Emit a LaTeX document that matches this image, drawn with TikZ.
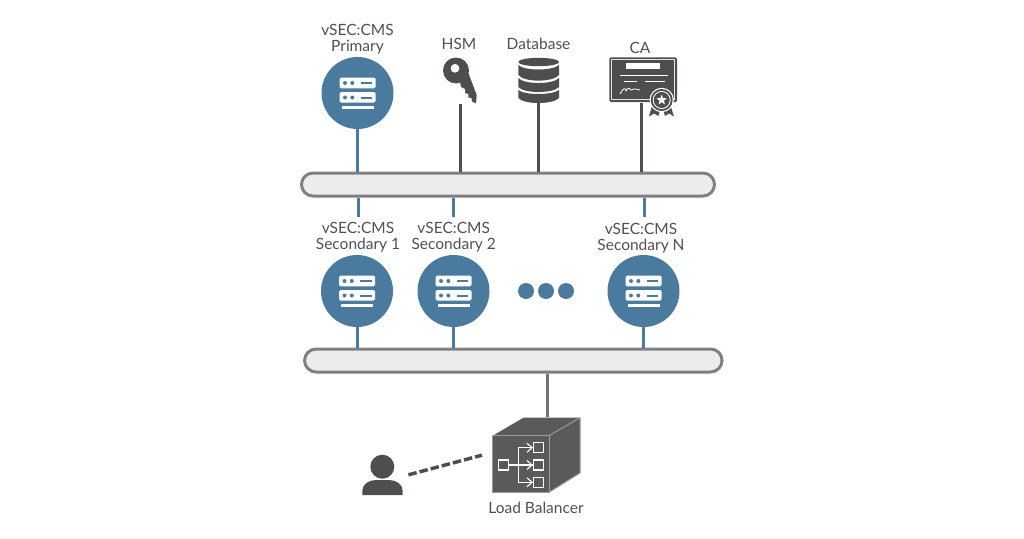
\documentclass[tikz,border=0pt]{standalone}
\usepackage{fontspec}
\usetikzlibrary{shapes.geometric}
\setmainfont{Lato}
\definecolor{bluec}{HTML}{4A7A9E}
\definecolor{darkc}{HTML}{4D4F4F}
\definecolor{barline}{HTML}{808080}
\definecolor{barfill}{HTML}{ECECEC}
\definecolor{txt}{HTML}{505050}
\definecolor{cube}{HTML}{5A5A5A}
\definecolor{cubeline}{HTML}{9A9A9A}
\tikzset{
  x=1pt,y=-1pt,
  srv/.style={circle,fill=bluec,draw=none,minimum size=72pt,inner sep=0pt},
  busbar/.style={rounded corners=11.5pt,draw=barline,line width=3pt,fill=barfill,minimum height=23pt,inner sep=0pt},
  bluelink/.style={draw=bluec,line width=3pt},
  darklink/.style={draw=darkc,line width=3pt},
  grayl/.style={draw=barline,line width=3pt},
  lab/.style={text=txt,font=\fontsize{15.5}{16}\selectfont,align=center,inner sep=0pt},
  icon/.style={inner sep=0pt,minimum width=#1,minimum height=1pt},
  wl/.style={draw=white,line width=1.1pt},
  servericon/.pic={
    \fill[white,rounded corners=1.5pt] (-18,-15.5) rectangle (18,-4.7);
    \fill[white,rounded corners=1.5pt] (-18,-1) rectangle (18,9.7);
    \fill[white] (-16,13.3) rectangle (16,16);
    \foreach \yy in {-10,4.5}{
      \fill[bluec] (-12.5,\yy) circle (2); \fill[bluec] (-5.2,\yy) circle (2);
      \fill[bluec] (3.2,\yy-1) rectangle (14.8,\yy+1);
    }
  }
}
\begin{document}
\begin{tikzpicture}
\useasboundingbox (0,0) rectangle (1024,538);
% bars
\node[busbar,minimum width=413pt] (bus1) at (508,184.5) {};
\node[busbar,minimum width=417.5pt] (bus2) at (513.3,360.5) {};
% servers
\node[srv] (prim) at (357.5,93) {};
\node[srv] (sec1) at (357,291) {};
\node[srv] (sec2) at (453.5,291) {};
\node[srv] (secN) at (643.5,291) {};
\foreach \n in {prim,sec1,sec2,secN}{\pic at (\n) {servericon};}
% dots
\foreach \xx/\n in {526/a,546/b,566/c}{\node[circle,fill=bluec,minimum size=16pt,inner sep=0pt] (dot\n) at (\xx,291) {};}
% anchors for icons
\node[icon=1pt] (hsm) at (460,103) {};
\node[icon=1pt] (db) at (538.5,102) {};
\node[icon=1pt] (ca) at (641.7,102) {};
\node[icon=1pt] (lb) at (547,418) {};
\node[icon=1pt] (s1top) at (358,218) {};
\node[icon=1pt] (s2top) at (453.5,218) {};
\node[icon=1pt] (sNtop) at (644.5,218) {};
\node[icon=1pt] (usr) at (407.7,475) {};
\node[icon=1pt] (lbfront) at (482.7,455) {};
% connectors
\draw[bluelink] (prim.south) -- (prim.south |- bus1.north);
\draw[darklink] (hsm) -- (hsm |- bus1.north);
\draw[darklink] (db) -- (db |- bus1.north);
\draw[darklink] (ca) -- (ca |- bus1.north);
\draw[bluelink] (s1top) -- (s1top |- bus1.south);
\draw[bluelink] (s2top) -- (s2top |- bus1.south);
\draw[bluelink] (sNtop) -- (sNtop |- bus1.south);
\draw[bluelink] (sec1.south) -- (sec1.south |- bus2.north);
\draw[bluelink] (sec2.south) -- (sec2.south |- bus2.north);
\draw[bluelink] (secN.south) -- (secN.south |- bus2.north);
\draw[grayl,draw=darkc!80!white] (lb) -- (lb |- bus2.south);
\draw[draw=darkc,line width=3.5pt,dash pattern=on 8.5pt off 3pt] (usr) -- (lbfront);
% key
\fill[darkc,even odd rule]
  (456,70.5) circle (13)
  (455,68.3) circle (4.5);
\fill[darkc] (460,82) -- (468,72) -- (476.7,95) -- (476,103.5) -- (472,101.5) -- (471.5,98) -- (468.5,97.5) -- (468.3,94) -- (465,93) -- (465,89) -- (461,87) -- cycle;
% database
\fill[darkc] (538.65,62) ellipse [x radius=20.4,y radius=4.2];
\fill[darkc] (518.3,65) .. controls (524,71) and (553,71) .. (559,65) -- (559,75) .. controls (553,82.5) and (524,82.5) .. (518.3,75) -- cycle;
\fill[darkc] (518.3,78) .. controls (524,84.7) and (553,84.7) .. (559,78) -- (559,87) .. controls (553,93.7) and (524,93.7) .. (518.3,87) -- cycle;
\fill[darkc] (518.3,90) .. controls (524,95.3) and (553,95.3) .. (559,90) -- (559,98) .. controls (553,104.7) and (524,104.7) .. (518.3,98) -- cycle;
% certificate
\fill[darkc,rounded corners=1.5pt] (609.3,57.3) rectangle (677,102);
\draw[white!85!darkc,line width=.8pt] (611.8,59.8) rectangle (674.5,99.5);
\fill[white] (625.7,63.3) rectangle (660.3,69);
\draw[wl] (620,75.7) -- (667.7,75.7);
\draw[wl] (624,81.3) -- (636.7,81.3);
\draw[wl] (645,81.3) -- (665,81.3);
\draw[white,line width=.8pt] (620,94) .. controls (623,88) and (626,87) .. (626,91) .. controls (628,87) and (630,88) .. (631,90) .. controls (633,88) and (635,89) .. (640,90);
\fill[darkc] (652.5,104) -- (649,116.5) -- (654,113.5) -- (658.5,116) -- (661,106) -- cycle;
\fill[darkc] (670,104) -- (674,116.5) -- (669,113.5) -- (665,116) -- (662,106) -- cycle;
\fill[white] (661.7,100) circle (12.2);
\fill[darkc] (661.7,100) circle (11);
\fill[white] (661.7,100) circle (9);
\fill[darkc] (661.7,100) circle (8);
\node[star,star points=5,star point ratio=2.4,fill=white,inner sep=0pt,minimum size=11pt] (seal) at (661.7,100) {};
% cube
\fill[cube] (492.7,435.7) -- (523.5,417.7) -- (580,417.7) -- (580,473) -- (549,492.3) -- (492.7,492.3) -- cycle;
\draw[cubeline,line width=1pt,line join=round] (492.7,435.7) rectangle (549,492.3);
\draw[cubeline,line width=1pt,line join=round] (549,435.7) -- (580,417.7) -- (580,473) -- (549,492.3);
\foreach \bx/\by/\n in {498.7/460/l,533.3/442.7/a,533.3/460/b,533.3/477.3/c}{
  \draw[wl] (\bx,\by) rectangle +(10,10);
}
\draw[wl] (509,465) -- (532.5,465);
\draw[wl] (532.5,447.7) -- (518.3,447.7) -- (518.3,482.3) -- (532.5,482.3);
\foreach \yy in {447.7,465,482.3}{\draw[wl] (527,\yy-4.5) -- (532,\yy) -- (527,\yy+4.5);}
% person
\fill[darkc] (382.3,466.7) circle (12);
\fill[darkc] (362.3,495) -- (362.3,491) .. controls (362.3,484) and (369,480) .. (376,480) -- (389,480) .. controls (396,480) and (402.7,484) .. (402.7,491) -- (402.7,495) -- cycle;
% labels
\node[lab] (tprim) at (357.5,39.5) {vSEC:CMS\\Primary};
\node[lab] (thsm) at (459,43.5) {HSM};
\node[lab] (tdb) at (538.5,43.5) {Database};
\node[lab] (tca) at (640,47.5) {CA};
\node[lab] (ts1) at (358,237) {vSEC:CMS\\Secondary 1};
\node[lab] (ts2) at (453.7,237) {vSEC:CMS\\Secondary 2};
\node[lab] (tsN) at (641,238) {vSEC:CMS\\Secondary N};
\node[lab] (tlb) at (536,508) {Load Balancer};
\end{tikzpicture}
\end{document}
